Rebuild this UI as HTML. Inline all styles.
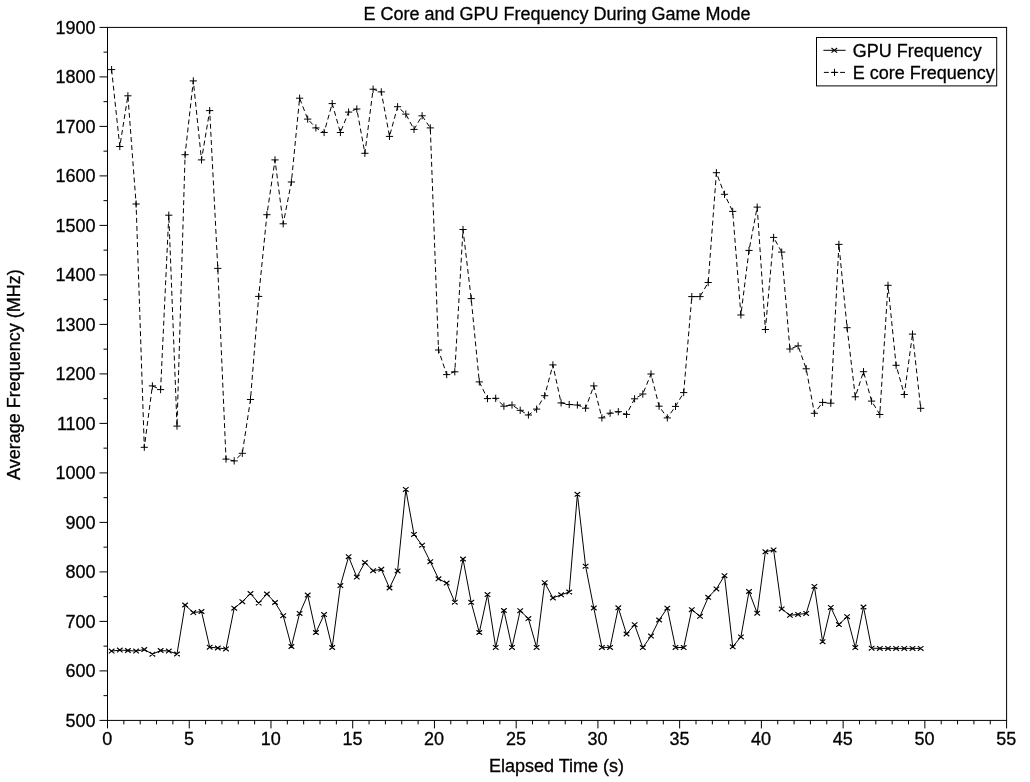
<!DOCTYPE html>
<html><head><meta charset="utf-8"><title>E Core and GPU Frequency During Game Mode</title>
<style>
html,body{margin:0;padding:0;background:#fff;}
body{width:1030px;height:782px;overflow:hidden;font-family:"Liberation Sans",sans-serif;}
svg{display:block;will-change:transform;}
text{font-family:"Liberation Sans",sans-serif;fill:#000;stroke:#000;stroke-width:0.3px;}
</style></head><body>
<svg width="1030" height="782" viewBox="0 0 1030 782">
<rect x="0" y="0" width="1030" height="782" fill="#fff"/>
<rect x="107.5" y="27.4" width="899.1" height="693.0" fill="none" stroke="#000" stroke-width="1"/>
<path d="M99.5 720.40H107.5M103.5 695.65H107.5M99.5 670.90H107.5M103.5 646.15H107.5M99.5 621.40H107.5M103.5 596.65H107.5M99.5 571.90H107.5M103.5 547.15H107.5M99.5 522.40H107.5M103.5 497.65H107.5M99.5 472.90H107.5M103.5 448.15H107.5M99.5 423.40H107.5M103.5 398.65H107.5M99.5 373.90H107.5M103.5 349.15H107.5M99.5 324.40H107.5M103.5 299.65H107.5M99.5 274.90H107.5M103.5 250.15H107.5M99.5 225.40H107.5M103.5 200.65H107.5M99.5 175.90H107.5M103.5 151.15H107.5M99.5 126.40H107.5M103.5 101.65H107.5M99.5 76.90H107.5M103.5 52.15H107.5M99.5 27.40H107.5M107.50 720.4V728.4M123.85 720.4V724.4M140.19 720.4V724.4M156.54 720.4V724.4M172.89 720.4V724.4M189.24 720.4V728.4M205.58 720.4V724.4M221.93 720.4V724.4M238.28 720.4V724.4M254.63 720.4V724.4M270.97 720.4V728.4M287.32 720.4V724.4M303.67 720.4V724.4M320.01 720.4V724.4M336.36 720.4V724.4M352.71 720.4V728.4M369.06 720.4V724.4M385.40 720.4V724.4M401.75 720.4V724.4M418.10 720.4V724.4M434.45 720.4V728.4M450.79 720.4V724.4M467.14 720.4V724.4M483.49 720.4V724.4M499.83 720.4V724.4M516.18 720.4V728.4M532.53 720.4V724.4M548.88 720.4V724.4M565.22 720.4V724.4M581.57 720.4V724.4M597.92 720.4V728.4M614.27 720.4V724.4M630.61 720.4V724.4M646.96 720.4V724.4M663.31 720.4V724.4M679.65 720.4V728.4M696.00 720.4V724.4M712.35 720.4V724.4M728.70 720.4V724.4M745.04 720.4V724.4M761.39 720.4V728.4M777.74 720.4V724.4M794.09 720.4V724.4M810.43 720.4V724.4M826.78 720.4V724.4M843.13 720.4V728.4M859.47 720.4V724.4M875.82 720.4V724.4M892.17 720.4V724.4M908.52 720.4V724.4M924.86 720.4V728.4M941.21 720.4V724.4M957.56 720.4V724.4M973.91 720.4V724.4M990.25 720.4V724.4M1006.60 720.4V728.4" stroke="#000" stroke-width="1" fill="none"/>
<g font-size="18px"><text x="95.6" y="726.7" text-anchor="end">500</text><text x="95.6" y="677.2" text-anchor="end">600</text><text x="95.6" y="627.7" text-anchor="end">700</text><text x="95.6" y="578.2" text-anchor="end">800</text><text x="95.6" y="528.7" text-anchor="end">900</text><text x="95.6" y="479.2" text-anchor="end">1000</text><text x="95.6" y="429.7" text-anchor="end">1100</text><text x="95.6" y="380.2" text-anchor="end">1200</text><text x="95.6" y="330.7" text-anchor="end">1300</text><text x="95.6" y="281.2" text-anchor="end">1400</text><text x="95.6" y="231.7" text-anchor="end">1500</text><text x="95.6" y="182.2" text-anchor="end">1600</text><text x="95.6" y="132.7" text-anchor="end">1700</text><text x="95.6" y="83.2" text-anchor="end">1800</text><text x="95.6" y="33.7" text-anchor="end">1900</text><text x="107.2" y="744.8" text-anchor="middle">0</text><text x="188.9" y="744.8" text-anchor="middle">5</text><text x="270.7" y="744.8" text-anchor="middle">10</text><text x="352.4" y="744.8" text-anchor="middle">15</text><text x="434.1" y="744.8" text-anchor="middle">20</text><text x="515.9" y="744.8" text-anchor="middle">25</text><text x="597.6" y="744.8" text-anchor="middle">30</text><text x="679.4" y="744.8" text-anchor="middle">35</text><text x="761.1" y="744.8" text-anchor="middle">40</text><text x="842.8" y="744.8" text-anchor="middle">45</text><text x="924.6" y="744.8" text-anchor="middle">50</text><text x="1006.3" y="744.8" text-anchor="middle">55</text></g>
<text x="557" y="19.9" font-size="18px" text-anchor="middle">E Core and GPU Frequency During Game Mode</text>
<text x="556.5" y="771.9" font-size="18px" text-anchor="middle">Elapsed Time (s)</text>
<text transform="translate(19.8 374.6) rotate(-90)" font-size="18px" text-anchor="middle">Average Frequency (MHz)</text>
<polyline points="111.6,69.6 119.8,146.5 127.9,95.8 136.1,204.0 144.3,447.3 152.4,385.9 160.6,389.6 168.8,215.2 177.0,426.1 185.1,154.7 193.3,80.9 201.5,159.9 209.7,110.6 217.8,268.4 226.0,459.1 234.2,460.9 242.3,453.3 250.5,399.5 258.7,296.4 266.9,214.7 275.0,159.9 283.2,223.8 291.4,182.0 299.6,98.2 307.7,119.1 315.9,127.9 324.1,132.5 332.2,103.6 340.4,132.5 348.6,112.1 356.8,109.0 364.9,153.3 373.1,89.2 381.3,91.9 389.5,136.4 397.6,106.7 405.8,114.1 414.0,129.4 422.1,115.8 430.3,127.9 438.5,350.0 446.7,374.6 454.8,371.8 463.0,229.5 471.2,298.6 479.3,381.9 487.5,398.6 495.7,398.3 503.9,406.2 512.0,405.0 520.2,410.3 528.4,415.0 536.6,409.1 544.7,395.7 552.9,364.9 561.1,402.9 569.2,404.5 577.4,405.0 585.6,408.2 593.8,385.9 601.9,417.9 610.1,413.2 618.3,411.7 626.5,414.4 634.6,398.8 642.8,394.0 651.0,374.0 659.1,406.2 667.3,417.9 675.5,406.4 683.7,392.6 691.8,296.6 700.0,296.6 708.2,282.5 716.4,172.7 724.5,194.3 732.7,211.4 740.9,315.0 749.0,250.4 757.2,207.1 765.4,329.5 773.6,237.4 781.7,252.1 789.9,349.0 798.1,345.9 806.2,368.8 814.4,413.3 822.6,402.4 830.8,403.2 838.9,244.4 847.1,327.7 855.3,396.8 863.5,371.7 871.6,401.1 879.8,414.5 888.0,285.3 896.1,365.3 904.3,394.5 912.5,334.1 920.7,408.3" fill="none" stroke="#000" stroke-width="1" stroke-dasharray="4.9 3.2"/>
<path d="M108.0 69.6h7.2M111.6 66.0v7.2M116.2 146.5h7.2M119.8 142.9v7.2M124.3 95.8h7.2M127.9 92.2v7.2M132.5 204.0h7.2M136.1 200.4v7.2M140.7 447.3h7.2M144.3 443.7v7.2M148.8 385.9h7.2M152.4 382.3v7.2M157.0 389.6h7.2M160.6 386.0v7.2M165.2 215.2h7.2M168.8 211.6v7.2M173.4 426.1h7.2M177.0 422.5v7.2M181.5 154.7h7.2M185.1 151.1v7.2M189.7 80.9h7.2M193.3 77.3v7.2M197.9 159.9h7.2M201.5 156.3v7.2M206.1 110.6h7.2M209.7 107.0v7.2M214.2 268.4h7.2M217.8 264.8v7.2M222.4 459.1h7.2M226.0 455.5v7.2M230.6 460.9h7.2M234.2 457.3v7.2M238.7 453.3h7.2M242.3 449.7v7.2M246.9 399.5h7.2M250.5 395.9v7.2M255.1 296.4h7.2M258.7 292.8v7.2M263.3 214.7h7.2M266.9 211.1v7.2M271.4 159.9h7.2M275.0 156.3v7.2M279.6 223.8h7.2M283.2 220.2v7.2M287.8 182.0h7.2M291.4 178.4v7.2M296.0 98.2h7.2M299.6 94.6v7.2M304.1 119.1h7.2M307.7 115.5v7.2M312.3 127.9h7.2M315.9 124.3v7.2M320.5 132.5h7.2M324.1 128.9v7.2M328.6 103.6h7.2M332.2 100.0v7.2M336.8 132.5h7.2M340.4 128.9v7.2M345.0 112.1h7.2M348.6 108.5v7.2M353.2 109.0h7.2M356.8 105.4v7.2M361.3 153.3h7.2M364.9 149.7v7.2M369.5 89.2h7.2M373.1 85.6v7.2M377.7 91.9h7.2M381.3 88.3v7.2M385.9 136.4h7.2M389.5 132.8v7.2M394.0 106.7h7.2M397.6 103.1v7.2M402.2 114.1h7.2M405.8 110.5v7.2M410.4 129.4h7.2M414.0 125.8v7.2M418.5 115.8h7.2M422.1 112.2v7.2M426.7 127.9h7.2M430.3 124.3v7.2M434.9 350.0h7.2M438.5 346.4v7.2M443.1 374.6h7.2M446.7 371.0v7.2M451.2 371.8h7.2M454.8 368.2v7.2M459.4 229.5h7.2M463.0 225.9v7.2M467.6 298.6h7.2M471.2 295.0v7.2M475.7 381.9h7.2M479.3 378.3v7.2M483.9 398.6h7.2M487.5 395.0v7.2M492.1 398.3h7.2M495.7 394.7v7.2M500.3 406.2h7.2M503.9 402.6v7.2M508.4 405.0h7.2M512.0 401.4v7.2M516.6 410.3h7.2M520.2 406.7v7.2M524.8 415.0h7.2M528.4 411.4v7.2M533.0 409.1h7.2M536.6 405.5v7.2M541.1 395.7h7.2M544.7 392.1v7.2M549.3 364.9h7.2M552.9 361.3v7.2M557.5 402.9h7.2M561.1 399.3v7.2M565.6 404.5h7.2M569.2 400.9v7.2M573.8 405.0h7.2M577.4 401.4v7.2M582.0 408.2h7.2M585.6 404.6v7.2M590.2 385.9h7.2M593.8 382.3v7.2M598.3 417.9h7.2M601.9 414.3v7.2M606.5 413.2h7.2M610.1 409.6v7.2M614.7 411.7h7.2M618.3 408.1v7.2M622.9 414.4h7.2M626.5 410.8v7.2M631.0 398.8h7.2M634.6 395.2v7.2M639.2 394.0h7.2M642.8 390.4v7.2M647.4 374.0h7.2M651.0 370.4v7.2M655.5 406.2h7.2M659.1 402.6v7.2M663.7 417.9h7.2M667.3 414.3v7.2M671.9 406.4h7.2M675.5 402.8v7.2M680.1 392.6h7.2M683.7 389.0v7.2M688.2 296.6h7.2M691.8 293.0v7.2M696.4 296.6h7.2M700.0 293.0v7.2M704.6 282.5h7.2M708.2 278.9v7.2M712.8 172.7h7.2M716.4 169.1v7.2M720.9 194.3h7.2M724.5 190.7v7.2M729.1 211.4h7.2M732.7 207.8v7.2M737.3 315.0h7.2M740.9 311.4v7.2M745.4 250.4h7.2M749.0 246.8v7.2M753.6 207.1h7.2M757.2 203.5v7.2M761.8 329.5h7.2M765.4 325.9v7.2M770.0 237.4h7.2M773.6 233.8v7.2M778.1 252.1h7.2M781.7 248.5v7.2M786.3 349.0h7.2M789.9 345.4v7.2M794.5 345.9h7.2M798.1 342.3v7.2M802.6 368.8h7.2M806.2 365.2v7.2M810.8 413.3h7.2M814.4 409.7v7.2M819.0 402.4h7.2M822.6 398.8v7.2M827.2 403.2h7.2M830.8 399.6v7.2M835.3 244.4h7.2M838.9 240.8v7.2M843.5 327.7h7.2M847.1 324.1v7.2M851.7 396.8h7.2M855.3 393.2v7.2M859.9 371.7h7.2M863.5 368.1v7.2M868.0 401.1h7.2M871.6 397.5v7.2M876.2 414.5h7.2M879.8 410.9v7.2M884.4 285.3h7.2M888.0 281.7v7.2M892.5 365.3h7.2M896.1 361.7v7.2M900.7 394.5h7.2M904.3 390.9v7.2M908.9 334.1h7.2M912.5 330.5v7.2M917.1 408.3h7.2M920.7 404.7v7.2" stroke="#000" stroke-width="1" fill="none"/>
<polyline points="111.6,651.1 119.8,650.1 127.9,650.5 136.1,651.1 144.3,649.5 152.4,654.2 160.6,650.5 168.8,651.1 177.0,654.0 185.1,605.0 193.3,612.6 201.5,611.5 209.7,647.2 217.8,648.0 226.0,648.9 234.2,608.2 242.3,601.7 250.5,593.6 258.7,603.1 266.9,594.0 275.0,602.5 283.2,615.7 291.4,646.5 299.6,613.4 307.7,595.1 315.9,632.5 324.1,614.6 332.2,647.5 340.4,585.6 348.6,556.7 356.8,577.1 364.9,562.5 373.1,570.7 381.3,569.3 389.5,588.0 397.6,570.9 405.8,489.4 414.0,534.4 422.1,545.2 430.3,561.7 438.5,578.8 446.7,583.1 454.8,602.2 463.0,559.0 471.2,602.3 479.3,632.5 487.5,594.6 495.7,647.4 503.9,610.5 512.0,647.4 520.2,610.7 528.4,618.6 536.6,647.4 544.7,582.7 552.9,597.9 561.1,594.8 569.2,592.0 577.4,494.3 585.6,566.2 593.8,608.0 601.9,647.4 610.1,647.4 618.3,607.8 626.5,634.0 634.6,624.7 642.8,647.6 651.0,636.1 659.1,620.0 667.3,608.2 675.5,647.4 683.7,647.6 691.8,609.7 700.0,616.3 708.2,597.3 716.4,588.9 724.5,575.7 732.7,646.8 740.9,636.9 749.0,591.5 757.2,613.2 765.4,551.8 773.6,549.9 781.7,608.9 789.9,615.3 798.1,614.4 806.2,613.4 814.4,586.4 822.6,641.7 830.8,607.4 838.9,624.6 847.1,616.7 855.3,647.6 863.5,607.0 871.6,648.2 879.8,648.4 888.0,648.4 896.1,648.4 904.3,648.4 912.5,648.4 920.7,648.4" fill="none" stroke="#000" stroke-width="1" stroke-linejoin="round"/>
<path d="M108.8 648.8l5.6 4.6M108.8 653.4l5.6 -4.6M117.0 647.8l5.6 4.6M117.0 652.4l5.6 -4.6M125.1 648.2l5.6 4.6M125.1 652.8l5.6 -4.6M133.3 648.8l5.6 4.6M133.3 653.4l5.6 -4.6M141.5 647.2l5.6 4.6M141.5 651.8l5.6 -4.6M149.6 651.9l5.6 4.6M149.6 656.5l5.6 -4.6M157.8 648.2l5.6 4.6M157.8 652.8l5.6 -4.6M166.0 648.8l5.6 4.6M166.0 653.4l5.6 -4.6M174.2 651.7l5.6 4.6M174.2 656.3l5.6 -4.6M182.3 602.7l5.6 4.6M182.3 607.3l5.6 -4.6M190.5 610.3l5.6 4.6M190.5 614.9l5.6 -4.6M198.7 609.2l5.6 4.6M198.7 613.8l5.6 -4.6M206.9 644.9l5.6 4.6M206.9 649.5l5.6 -4.6M215.0 645.7l5.6 4.6M215.0 650.3l5.6 -4.6M223.2 646.6l5.6 4.6M223.2 651.2l5.6 -4.6M231.4 605.9l5.6 4.6M231.4 610.5l5.6 -4.6M239.5 599.4l5.6 4.6M239.5 604.0l5.6 -4.6M247.7 591.3l5.6 4.6M247.7 595.9l5.6 -4.6M255.9 600.8l5.6 4.6M255.9 605.4l5.6 -4.6M264.1 591.7l5.6 4.6M264.1 596.3l5.6 -4.6M272.2 600.2l5.6 4.6M272.2 604.8l5.6 -4.6M280.4 613.4l5.6 4.6M280.4 618.0l5.6 -4.6M288.6 644.2l5.6 4.6M288.6 648.8l5.6 -4.6M296.8 611.1l5.6 4.6M296.8 615.7l5.6 -4.6M304.9 592.8l5.6 4.6M304.9 597.4l5.6 -4.6M313.1 630.2l5.6 4.6M313.1 634.8l5.6 -4.6M321.3 612.3l5.6 4.6M321.3 616.9l5.6 -4.6M329.4 645.2l5.6 4.6M329.4 649.8l5.6 -4.6M337.6 583.3l5.6 4.6M337.6 587.9l5.6 -4.6M345.8 554.4l5.6 4.6M345.8 559.0l5.6 -4.6M354.0 574.8l5.6 4.6M354.0 579.4l5.6 -4.6M362.1 560.2l5.6 4.6M362.1 564.8l5.6 -4.6M370.3 568.4l5.6 4.6M370.3 573.0l5.6 -4.6M378.5 567.0l5.6 4.6M378.5 571.6l5.6 -4.6M386.7 585.7l5.6 4.6M386.7 590.3l5.6 -4.6M394.8 568.6l5.6 4.6M394.8 573.2l5.6 -4.6M403.0 487.1l5.6 4.6M403.0 491.7l5.6 -4.6M411.2 532.1l5.6 4.6M411.2 536.7l5.6 -4.6M419.3 542.9l5.6 4.6M419.3 547.5l5.6 -4.6M427.5 559.4l5.6 4.6M427.5 564.0l5.6 -4.6M435.7 576.5l5.6 4.6M435.7 581.1l5.6 -4.6M443.9 580.8l5.6 4.6M443.9 585.4l5.6 -4.6M452.0 599.9l5.6 4.6M452.0 604.5l5.6 -4.6M460.2 556.7l5.6 4.6M460.2 561.3l5.6 -4.6M468.4 600.0l5.6 4.6M468.4 604.6l5.6 -4.6M476.5 630.2l5.6 4.6M476.5 634.8l5.6 -4.6M484.7 592.3l5.6 4.6M484.7 596.9l5.6 -4.6M492.9 645.1l5.6 4.6M492.9 649.7l5.6 -4.6M501.1 608.2l5.6 4.6M501.1 612.8l5.6 -4.6M509.2 645.1l5.6 4.6M509.2 649.7l5.6 -4.6M517.4 608.4l5.6 4.6M517.4 613.0l5.6 -4.6M525.6 616.3l5.6 4.6M525.6 620.9l5.6 -4.6M533.8 645.1l5.6 4.6M533.8 649.7l5.6 -4.6M541.9 580.4l5.6 4.6M541.9 585.0l5.6 -4.6M550.1 595.6l5.6 4.6M550.1 600.2l5.6 -4.6M558.3 592.5l5.6 4.6M558.3 597.1l5.6 -4.6M566.4 589.7l5.6 4.6M566.4 594.3l5.6 -4.6M574.6 492.0l5.6 4.6M574.6 496.6l5.6 -4.6M582.8 563.9l5.6 4.6M582.8 568.5l5.6 -4.6M591.0 605.7l5.6 4.6M591.0 610.3l5.6 -4.6M599.1 645.1l5.6 4.6M599.1 649.7l5.6 -4.6M607.3 645.1l5.6 4.6M607.3 649.7l5.6 -4.6M615.5 605.5l5.6 4.6M615.5 610.1l5.6 -4.6M623.7 631.7l5.6 4.6M623.7 636.3l5.6 -4.6M631.8 622.4l5.6 4.6M631.8 627.0l5.6 -4.6M640.0 645.3l5.6 4.6M640.0 649.9l5.6 -4.6M648.2 633.8l5.6 4.6M648.2 638.4l5.6 -4.6M656.3 617.7l5.6 4.6M656.3 622.3l5.6 -4.6M664.5 605.9l5.6 4.6M664.5 610.5l5.6 -4.6M672.7 645.1l5.6 4.6M672.7 649.7l5.6 -4.6M680.9 645.3l5.6 4.6M680.9 649.9l5.6 -4.6M689.0 607.4l5.6 4.6M689.0 612.0l5.6 -4.6M697.2 614.0l5.6 4.6M697.2 618.6l5.6 -4.6M705.4 595.0l5.6 4.6M705.4 599.6l5.6 -4.6M713.6 586.6l5.6 4.6M713.6 591.2l5.6 -4.6M721.7 573.4l5.6 4.6M721.7 578.0l5.6 -4.6M729.9 644.5l5.6 4.6M729.9 649.1l5.6 -4.6M738.1 634.6l5.6 4.6M738.1 639.2l5.6 -4.6M746.2 589.2l5.6 4.6M746.2 593.8l5.6 -4.6M754.4 610.9l5.6 4.6M754.4 615.5l5.6 -4.6M762.6 549.5l5.6 4.6M762.6 554.1l5.6 -4.6M770.8 547.6l5.6 4.6M770.8 552.2l5.6 -4.6M778.9 606.6l5.6 4.6M778.9 611.2l5.6 -4.6M787.1 613.0l5.6 4.6M787.1 617.6l5.6 -4.6M795.3 612.1l5.6 4.6M795.3 616.7l5.6 -4.6M803.4 611.1l5.6 4.6M803.4 615.7l5.6 -4.6M811.6 584.1l5.6 4.6M811.6 588.7l5.6 -4.6M819.8 639.4l5.6 4.6M819.8 644.0l5.6 -4.6M828.0 605.1l5.6 4.6M828.0 609.7l5.6 -4.6M836.1 622.3l5.6 4.6M836.1 626.9l5.6 -4.6M844.3 614.4l5.6 4.6M844.3 619.0l5.6 -4.6M852.5 645.3l5.6 4.6M852.5 649.9l5.6 -4.6M860.7 604.7l5.6 4.6M860.7 609.3l5.6 -4.6M868.8 645.9l5.6 4.6M868.8 650.5l5.6 -4.6M877.0 646.1l5.6 4.6M877.0 650.7l5.6 -4.6M885.2 646.1l5.6 4.6M885.2 650.7l5.6 -4.6M893.3 646.1l5.6 4.6M893.3 650.7l5.6 -4.6M901.5 646.1l5.6 4.6M901.5 650.7l5.6 -4.6M909.7 646.1l5.6 4.6M909.7 650.7l5.6 -4.6M917.9 646.1l5.6 4.6M917.9 650.7l5.6 -4.6" stroke="#000" stroke-width="1.15" fill="none"/>
<rect x="816.5" y="37.5" width="180.2" height="48.4" fill="#fff" stroke="#000" stroke-width="1"/>
<path d="M823.4 50.3H845.6" stroke="#000" stroke-width="1"/>
<path d="M831.5 48l5.6 4.6M831.5 52.6l5.6 -4.6" stroke="#000" stroke-width="1.15" fill="none"/>
<path d="M823.9 72.4H845.6" stroke="#000" stroke-width="1" stroke-dasharray="4.9 3.2"/>
<path d="M830.9 72.4h7.2M834.5 68.8v7.2" stroke="#000" stroke-width="1" fill="none"/>
<g font-size="18px"><text x="852.8" y="56.6">GPU Frequency</text><text x="852.8" y="78.9">E core Frequency</text></g>
</svg>
</body></html>
